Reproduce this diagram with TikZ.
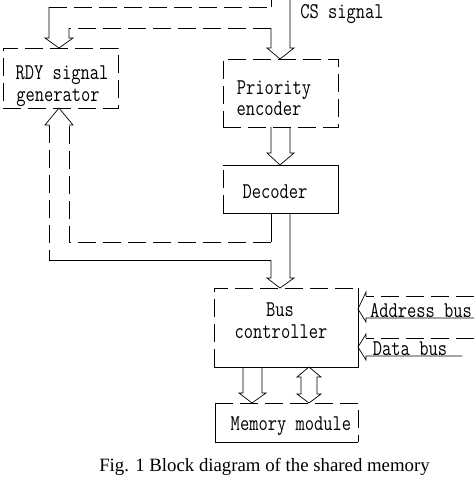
\documentclass[tikz,border=0pt]{standalone}
\usepackage{fontspec}
\setmainfont{Liberation Serif}
\newcommand{\tallt}[1]{\scalebox{1}[1.25]{#1}}
\begin{document}
\begin{tikzpicture}[x=1pt,y=-1pt,line width=0.7pt,
  box/.style={inner sep=0pt, outer sep=0pt},
  lbl/.style={inner sep=0pt, anchor=base, font=\ttfamily\fontsize{18}{19}\selectfont},
  brk/.style={dash pattern=on 18pt off 7pt},
  capt/.style={inner sep=0pt, anchor=base, font=\fontsize{18.8}{20}\selectfont}]
\useasboundingbox (0,0) rectangle (474,477);
% boxes
\node[box, draw, brk, minimum width=115pt, minimum height=60pt] (rdy) at (60.5,78) {};
\node[box, draw, brk, minimum width=115pt, minimum height=68pt] (pe) at (280.5,93) {};
\node[box, minimum width=115pt, minimum height=48pt] (dec) at (280.5,189) {};
\node[box, minimum width=144pt, minimum height=79pt] (bc) at (286,327.5) {};
\node[box, minimum width=143pt, minimum height=39pt] (mem) at (286.5,422.5) {};
% box outlines with mixed line styles
\draw (dec.north west) -- (dec.north east) -- (dec.south east) -- (dec.south west);
\draw[brk] (dec.south west) -- (dec.north west);
\draw[brk] (bc.south west) -- (bc.north west) -- (bc.north east);
\draw (bc.north east) -- (bc.south east) -- (bc.south west);
\draw[brk] (mem.north west) -- (mem.north east) -- (mem.south east);
\draw (mem.south east) -- (mem.south west) -- (mem.north west);
% labels
\node[lbl] (rdy1) at (62,79) {\tallt{RDY signal}};
\node[lbl] (rdy2) at (58,101) {\tallt{generator}};
\node[lbl] (pe1) at (274,94) {\tallt{Priority}};
\node[lbl] (pe2) at (269,115) {\tallt{encoder}};
\node[lbl] (dec1) at (275,198) {\tallt{Decoder}};
\node[lbl] (bc1) at (280,316) {\tallt{Bus}};
\node[lbl] (bc2) at (281,338) {\tallt{controller}};
\node[lbl] (mem1) at (291,430) {\tallt{Memory module}};
\node[lbl] (cs) at (342,18) {\tallt{CS signal}};
\node[lbl] (ab) at (421,317) {\tallt{Address bus}};
\node[lbl] (db) at (410,355) {\tallt{Data bus}};
\node[capt] (cap) at (264.5,471) {Fig. 1 Block diagram of the shared memory};
% named points
\coordinate (csR) at (290,0);
\coordinate (csL) at (271,0);
\coordinate (abEnd1) at (474,296);
\coordinate (abEnd2) at (474,318);
\coordinate (dbEnd1) at (474,338);
\coordinate (dbEnd2) at (462,356);
% CS signal into priority encoder and RDY generator
\draw (csR) -- (290,48) -- (294,48) -- (280,0 |- pe.north) -- (267,48) -- (271,48) -- (271,28);
\draw[brk] (271,28) -- (69,28);
\draw (69,28) -- (69,38) -- (73,38) -- (59,0 |- rdy.north) -- (45,38) -- (49,38) -- (49,7);
\draw[brk] (49,7) -- (271,7);
\draw (271,7) -- (csL);
% priority encoder to decoder
\draw (271,0 |- pe.south) -- (271,153) -- (267,153) -- (280,0 |- dec.north) -- (294,153) -- (290,153) -- (290,0 |- pe.south);
% decoder to bus controller, with branch to RDY generator
\draw (290,0 |- dec.south) -- (290,278) -- (294,278) -- (280,0 |- bc.north) -- (267,278) -- (271,278) -- (271,260);
\draw (271,0 |- dec.south) -- (271,242);
\draw[brk] (271,242) -- (69,242) -- (69,125);
\draw (69,125) -- (73,125) -- (59,0 |- rdy.south) -- (45,125) -- (49,125);
\draw[brk] (49,125) -- (49,260);
\draw (49,260) -- (271,260);
% address bus
\draw[brk] (abEnd1) -- (366,296);
\draw (366,296) -- (366,292) -- (bc.east |- 0,309) -- (366,322) -- (366,318) -- (abEnd2);
% data bus
\draw[brk] (dbEnd1) -- (366,338);
\draw (366,338) -- (366,334) -- (bc.east |- 0,347) -- (366,360) -- (366,356) -- (dbEnd2);
% bus controller to memory (one-way)
\draw (243,0 |- bc.south) -- (243,393) -- (239,393) -- (252,0 |- mem.north) -- (266,393) -- (262,393) -- (262,0 |- bc.south);
% bus controller <-> memory (two-way)
\draw (301,377) -- (297,377) -- (309,0 |- bc.south) -- (321,377) -- (317,377) -- (317,394) -- (321,394) -- (309,0 |- mem.north) -- (297,394) -- (301,394) -- cycle;
\end{tikzpicture}
\end{document}
